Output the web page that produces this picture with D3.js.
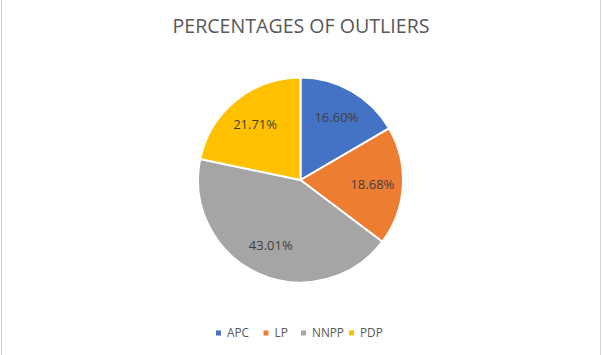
<!DOCTYPE html>
<head>
  <meta charset="utf-8">
  <script src="https://d3js.org/d3.v7.min.js"></script>
  <style>
    body { margin: 0; background: #fff; }
    svg text { font-family: "Open Sans", "Liberation Sans", sans-serif; }
  </style>
</head>
<body>
  <script>
    // chart data
    var parties = ['APC', 'LP', 'NNPP', 'PDP'];
    var shares = [16.60, 18.68, 43.01, 21.71];
    var partyColors = ['#4472C4', '#ED7D31', '#A5A5A5', '#FFC000'];
    var titleText = 'PERCENTAGES OF OUTLIERS';

    var outerWidth = 602,
      outerHeight = 355;

    var cx = 300.5, cy = 180, radius = 102.5;

    var svg = d3.select('body')
      .append('svg')
      .attr('width', outerWidth)
      .attr('height', outerHeight);

    // faint sheet edges on left and right
    svg.append('line')
      .attr('x1', 1.5).attr('x2', 1.5).attr('y1', 0).attr('y2', 355)
      .attr('stroke', '#d4d4d4').attr('stroke-width', 1);
    svg.append('line')
      .attr('x1', 600.5).attr('x2', 600.5).attr('y1', 0).attr('y2', 355)
      .attr('stroke', '#d4d4d4').attr('stroke-width', 1);

    // title
    svg.append('text')
      .attr('x', 301)
      .attr('y', 32.5)
      .attr('text-anchor', 'middle')
      .attr('fill', '#595959')
      .style('font-size', '19.6px')
      .text(titleText);

    var color = d3.scaleOrdinal().domain(parties).range(partyColors);

    var rows = parties.map(function(p, i) {
      return { party: p, value: shares[i] };
    });

    var pie = d3.pie()
      .sort(null)
      .value(function(d) { return d.value; });

    var arc = d3.arc().innerRadius(0).outerRadius(radius);
    var labelArc = d3.arc().innerRadius(72 * 2 - radius).outerRadius(radius);

    var g = svg.append('g')
      .attr('transform', 'translate(' + cx + ' ' + cy + ')');

    var slices = g.selectAll('.slice')
      .data(pie(rows))
      .enter()
      .append('g')
      .attr('class', 'slice');

    slices.append('path')
      .attr('d', arc)
      .attr('fill', function(d) { return color(d.data.party); })
      .attr('stroke', '#fff')
      .attr('stroke-width', 2)
      .attr('stroke-linejoin', 'round');

    slices.append('text')
      .attr('transform', function(d) { return 'translate(' + labelArc.centroid(d) + ')'; })
      .attr('text-anchor', 'middle')
      .attr('dy', '0.35em')
      .attr('fill', '#404040')
      .style('font-size', '13px')
      .text(function(d) { return d.data.value.toFixed(2) + '%'; });

    // legend
    var legendX = [216, 263.5, 301, 349];
    var legend = svg.append('g')
      .selectAll('.legend')
      .data(parties)
      .enter()
      .append('g')
      .attr('transform', function(d, i) { return 'translate(' + legendX[i] + ' 333)'; });

    legend.append('rect')
      .attr('x', 0).attr('y', -2.5)
      .attr('width', 5).attr('height', 5)
      .attr('fill', function(d) { return color(d); });

    legend.append('text')
      .attr('x', 11)
      .attr('dy', '0.35em')
      .attr('fill', '#595959')
      .style('font-size', '11.8px')
      .text(function(d) { return d; });
  </script>
</body>
